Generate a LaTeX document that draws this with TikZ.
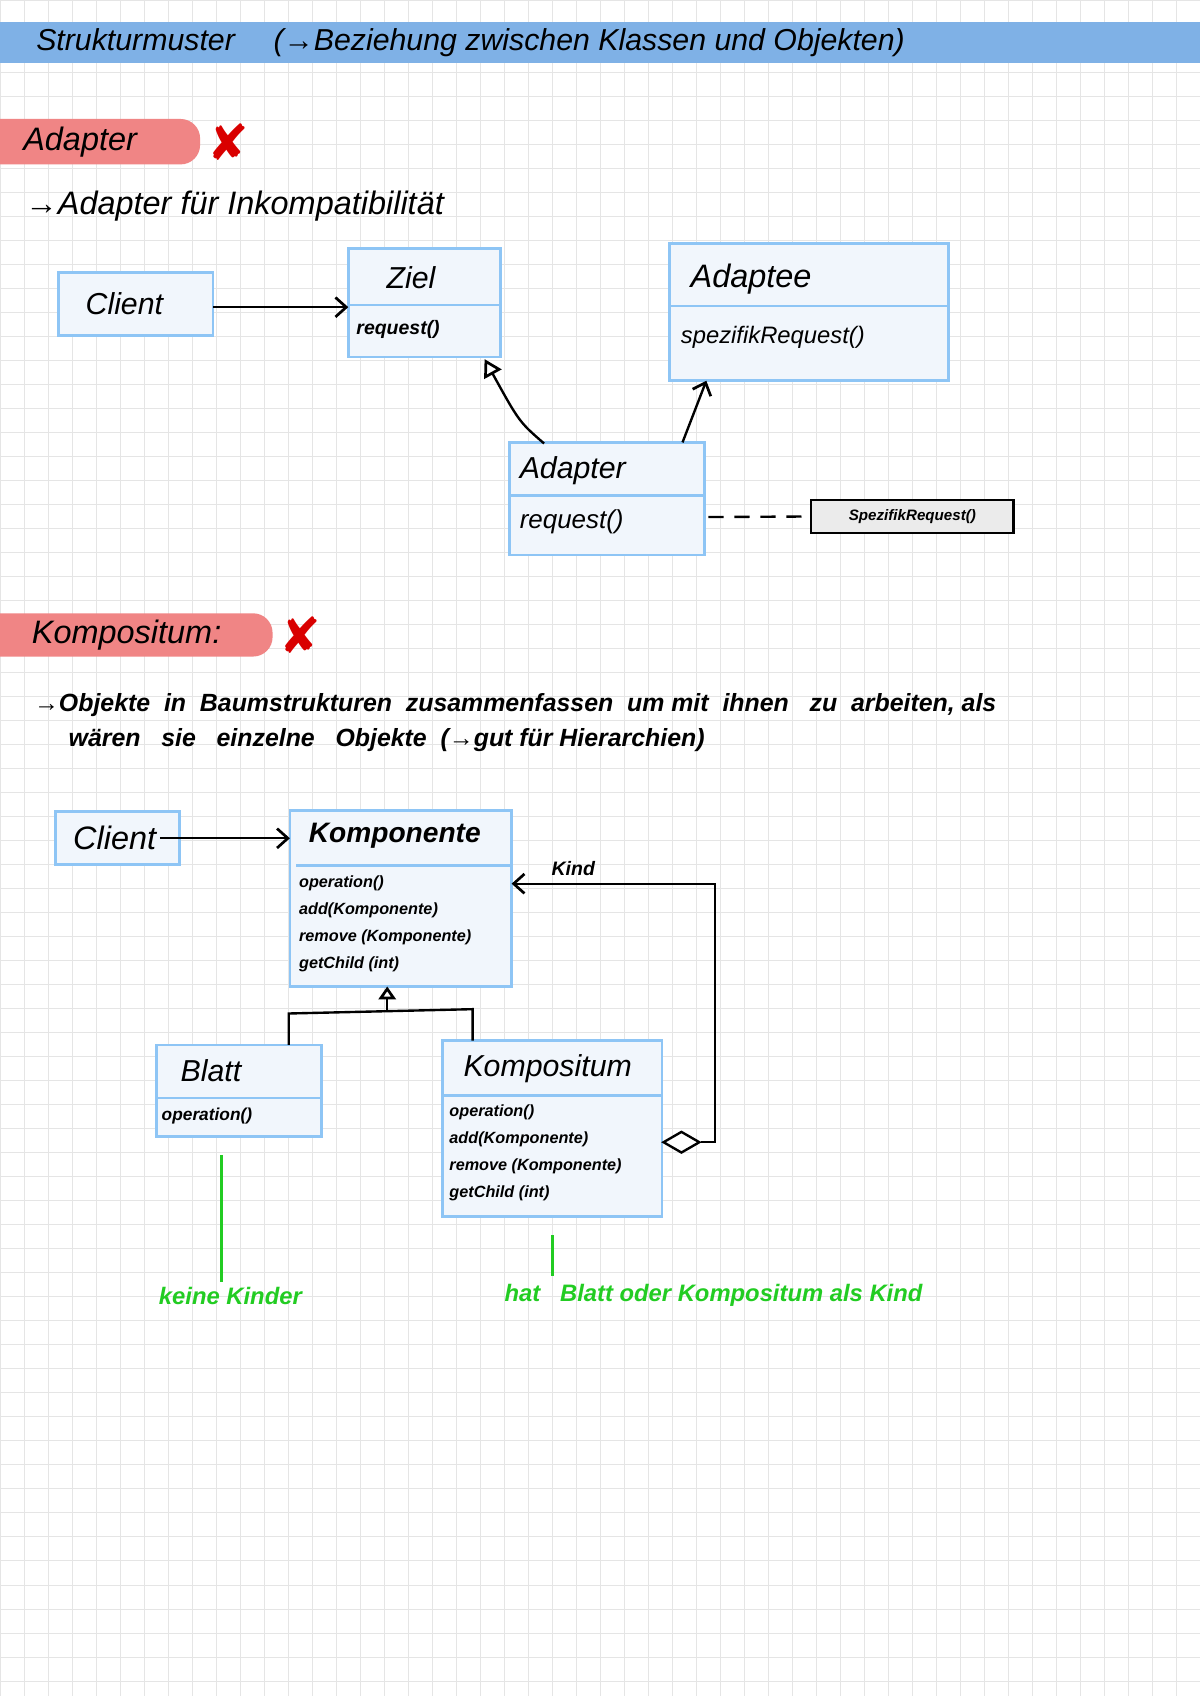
\documentclass[tikz,border=0pt]{standalone}
\usepackage{fontspec}
\setmainfont{Liberation Sans}
\newfontfamily\symf{DejaVu Sans}
\usetikzlibrary{arrows.meta,shapes.geometric}
\definecolor{bx}{HTML}{8EC5F5}
\definecolor{bf}{HTML}{F1F6FC}
\definecolor{hd}{HTML}{7FB1E6}
\definecolor{pk}{HTML}{F08585}
\definecolor{gn}{HTML}{22CC22}
\tikzset{
 cls/.style={draw=bx,line width=2.5pt,fill=bf},
 dv/.style={draw=bx,line width=2.5pt},
 ln/.style={line width=2.2pt,black},
 barb/.style={-{Straight Barb[length=10pt,width=18pt,line width=2.5pt]}},
 redx/.style={text=red!85!black,font=\symf\bfseries\fontsize{46}{46}\selectfont},
}
\begin{document}
\begin{tikzpicture}[x=1pt,y=-1pt]
\useasboundingbox (0,0) rectangle (1109,1568);
\fill[white] (0,0) rectangle (1109,1568);
\foreach \i in {0,...,50} {\draw[black!10,line width=0.6pt] (\i*22.2,0) -- (\i*22.2,1568);}
\foreach \i in {0,...,71} {\draw[black!10,line width=0.6pt] (0,\i*22.2) -- (1109,\i*22.2);}
% header
\fill[hd] (0,20) rectangle (1109,58);
\node[anchor=west,font=\itshape\fontsize{28}{30}\selectfont] (hdr) at (30,39) {Strukturmuster \quad (→Beziehung zwischen Klassen und Objekten)};
% Adapter
\fill[pk,rounded corners=18pt] (-20,110) rectangle (185,152);
\node[anchor=west,font=\itshape\fontsize{30}{32}\selectfont] (adt) at (18,131) {Adapter};
\node[redx] (x1) at (211,131) {✘};
\node[anchor=west,font=\itshape\fontsize{30}{32}\selectfont] (adsub) at (20,191) {→Adapter für Inkompatibilität};
% boxes
\draw[cls] (54,252) rectangle (197,310);
\node[font=\itshape\fontsize{28}{30}\selectfont] (client) at (115,281) {Client};
\coordinate (cR) at (197,284);
\draw[cls] (322,230) rectangle (463,330); \draw[dv] (322,282)--(463,282);
\node[font=\itshape\fontsize{28}{30}\selectfont] (ziel) at (380,257) {Ziel};
\node[anchor=west,font=\itshape\bfseries\fontsize{18}{20}\selectfont] (zr) at (326,305) {request()};
\coordinate (zL) at (322,284);
\draw[cls] (619,225) rectangle (877,352); \draw[dv] (619,283)--(877,283);
\node[anchor=west,font=\itshape\fontsize{30}{32}\selectfont] (adaptee) at (635,258) {Adaptee};
\node[anchor=west,font=\itshape\fontsize{22}{24}\selectfont] (asr) at (626,312) {spezifikRequest()};
\draw[cls] (471,409) rectangle (651,513); \draw[dv] (471,458)--(651,458);
\node[anchor=west,font=\itshape\fontsize{28}{30}\selectfont] (adapter) at (477,435) {Adapter};
\node[anchor=west,font=\itshape\fontsize{24}{26}\selectfont] (arq) at (477,482) {request()};
\node[draw=black,line width=2pt,fill=black!8,minimum width=187pt,minimum height=31pt,font=\itshape\bfseries\fontsize{14}{16}\selectfont] (spz) at (843.5,477.5) {SpezifikRequest()};
\coordinate (dvs) at (655,478);
\draw[ln,dashed,dash pattern=on 14pt off 10pt] (dvs) -- (spz.west);
\draw[ln,barb] (cR) -- (zL);
\coordinate (a1) at (503,410); \coordinate (z1) at (448,332);
\draw[ln,-{Triangle[open,length=16pt,width=18pt,line width=2.5pt]}] (a1) .. controls (480,390) .. (z1);
\coordinate (a2) at (631,409); \coordinate (ae) at (653,352);
\draw[ln,barb] (a2) -- (ae);
% Kompositum
\fill[pk,rounded corners=18pt] (-20,567) rectangle (252,607);
\node[anchor=west,font=\itshape\fontsize{30}{32}\selectfont] (kl) at (26,587) {Kompositum:};
\node[redx] (x2) at (278,587) {✘};
\node[anchor=west,font=\itshape\bfseries\fontsize{23}{24}\selectfont] (t1) at (28,652) {→Objekte \ in \ Baumstrukturen \ zusammenfassen \ um mit \ ihnen \ \ zu \ arbeiten, als};
\node[anchor=west,font=\itshape\bfseries\fontsize{23}{24}\selectfont] (t2) at (60,684) {wären \ \ sie \ \ einzelne \ \ Objekte \ (→gut für Hierarchien)};
\draw[cls] (51,750) rectangle (166,799);
\node[font=\itshape\fontsize{30}{32}\selectfont] (client2) at (106,775) {Client};
\draw[cls] (268,749) rectangle (473,912); \draw[dv] (274,800)--(473,800);
\node[anchor=west,font=\itshape\bfseries\fontsize{26}{28}\selectfont] (komp) at (282,773) {Komponente};
\node[anchor=north west,align=left,font=\itshape\bfseries\fontsize{15}{25}\selectfont] (kops) at (273,806) {operation()\\add(Komponente)\\remove (Komponente)\\getChild (int)};
\draw[cls] (145,966) rectangle (297,1051); \draw[dv] (145,1015)--(297,1015);
\node[font=\itshape\fontsize{28}{30}\selectfont] (blatt) at (195,990) {Blatt};
\node[anchor=west,font=\itshape\bfseries\fontsize{16}{18}\selectfont] (bop) at (146,1032) {operation()};
\draw[cls] (409,962) rectangle (612,1125); \draw[dv] (409,1013)--(612,1013);
\node[anchor=west,font=\itshape\fontsize{28}{30}\selectfont] (kompo) at (425,988) {Kompositum};
\node[anchor=north west,align=left,font=\itshape\bfseries\fontsize{15}{25}\selectfont] (kops2) at (412,1018) {operation()\\add(Komponente)\\remove (Komponente)\\getChild (int)};
\draw[ln,barb] (client2.east) -- (268,775);
\coordinate (bt) at (267,966); \coordinate (kt) at (437,962); \coordinate (mid) at (358,935); \coordinate (kb) at (358,912);
\draw[ln] (bt) -- (267,937) -- (437,933) -- (kt);
\draw[ln,-{Triangle[open,length=12pt,width=16pt,line width=2.5pt]}] (mid) -- (kb);
\node[draw=black,line width=2.2pt,fill=white,diamond,aspect=1.8,minimum width=34pt,minimum height=20pt,inner sep=0pt] (dia) at (630,1056) {};
\coordinate (kR) at (473,817);
\draw[ln,barb] (dia.east) -- (661,1056) -- (661,817) -- (kR);
\node[font=\itshape\bfseries\fontsize{18}{20}\selectfont] (kind) at (530,803) {Kind};
% green
\coordinate (g1) at (205,1068); \coordinate (g2) at (205,1185);
\draw[gn,line width=2.5pt] (g1) -- (g2);
\node[text=gn,font=\itshape\bfseries\fontsize{22}{24}\selectfont] (kk) at (213,1198) {keine Kinder};
\coordinate (g3) at (511,1142); \coordinate (g4) at (511,1180);
\draw[gn,line width=2.5pt] (g3) -- (g4);
\node[text=gn,anchor=west,font=\itshape\bfseries\fontsize{22}{24}\selectfont] (hb) at (463,1198) {hat \ \ Blatt oder Kompositum als Kind};
\end{tikzpicture}
\end{document}
